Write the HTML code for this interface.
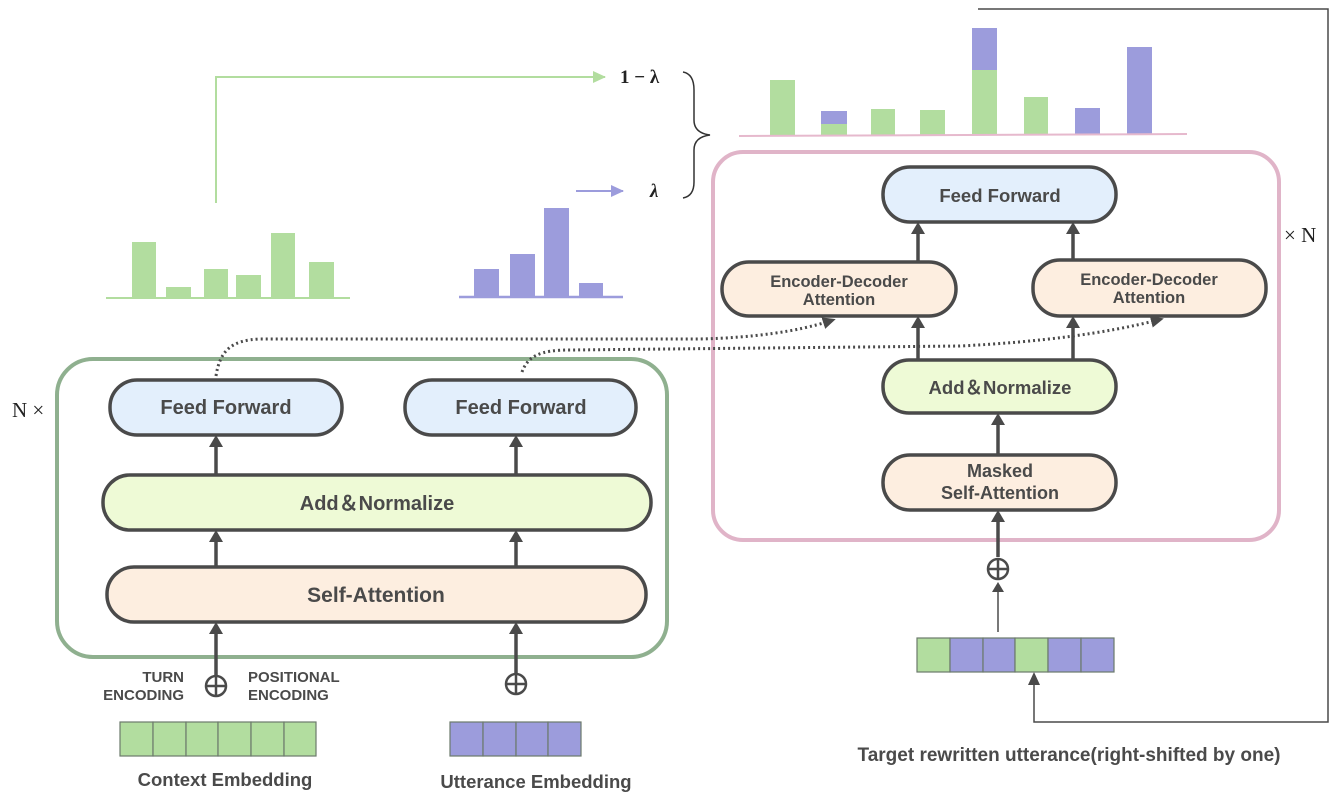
<!DOCTYPE html>
<html><head><meta charset="utf-8"><style>
html,body{margin:0;padding:0;background:#fff;}
svg{display:block;}
text{font-family:"Liberation Sans",sans-serif;font-weight:bold;fill:#4a4a4a;}
.s{font-family:"Liberation Serif",serif;fill:#222;}
.n{font-family:"Liberation Serif",serif;fill:#222;font-weight:normal;}
</style></head><body>
<svg width="1338" height="794" viewBox="0 0 1338 794" xmlns="http://www.w3.org/2000/svg">
<defs>
<marker id="ag" markerWidth="14" markerHeight="14" refX="12" refY="7" orient="auto" markerUnits="userSpaceOnUse"><path d="M0,1 L13,7 L0,13 z" fill="#b2dd9f"/></marker>
<marker id="ap" markerWidth="14" markerHeight="14" refX="12" refY="7" orient="auto" markerUnits="userSpaceOnUse"><path d="M0,1 L13,7 L0,13 z" fill="#9c9cdc"/></marker>
<marker id="ad" markerWidth="14" markerHeight="14" refX="7" refY="7" orient="auto" markerUnits="userSpaceOnUse"><path d="M0,1 L13,7 L0,13 z" fill="#4a4a4a"/></marker>
</defs>

<g fill="#b2dd9f">
<rect x="132" y="242" width="24" height="55"/><rect x="166" y="287" width="25" height="10"/>
<rect x="204" y="269" width="24" height="28"/><rect x="236" y="275" width="25" height="22"/>
<rect x="271" y="233" width="24" height="64"/><rect x="309" y="262" width="25" height="35"/>
</g>
<line x1="106" y1="298" x2="350" y2="298" stroke="#b2dd9f" stroke-width="2"/>
<g fill="#9c9cdc">
<rect x="474" y="269" width="25" height="27"/><rect x="510" y="254" width="25" height="42"/>
<rect x="544" y="208" width="25" height="88"/><rect x="579" y="283" width="24" height="13"/>
</g>
<line x1="459" y1="297" x2="623" y2="297" stroke="#9c9cdc" stroke-width="2.5"/>

<polyline points="216,203 216,77 605,77" fill="none" stroke="#b2dd9f" stroke-width="2" marker-end="url(#ag)"/>
<line x1="576" y1="191" x2="623" y2="191" stroke="#9c9cdc" stroke-width="2" marker-end="url(#ap)"/>
<text x="620" y="83" class="s" font-size="19">1 − λ</text>
<text x="650" y="197" class="s" font-size="19" font-style="italic">λ</text>
<path d="M683,72 Q694,74 694,90 L694,120 Q694,133 710,135 Q694,137 694,150 L694,182 Q694,196 683,198" fill="none" stroke="#333" stroke-width="1.5"/>

<g>
<rect x="770" y="80" width="25" height="55" fill="#b2dd9f"/>
<rect x="821" y="111" width="26" height="13" fill="#9c9cdc"/><rect x="821" y="124" width="26" height="11" fill="#b2dd9f"/>
<rect x="871" y="109" width="24" height="26" fill="#b2dd9f"/>
<rect x="920" y="110" width="25" height="25" fill="#b2dd9f"/>
<rect x="972" y="28" width="25" height="42" fill="#9c9cdc"/><rect x="972" y="70" width="25" height="65" fill="#b2dd9f"/>
<rect x="1024" y="97" width="24" height="38" fill="#b2dd9f"/>
<rect x="1075" y="108" width="25" height="27" fill="#9c9cdc"/>
<rect x="1127" y="47" width="25" height="88" fill="#9c9cdc"/>
</g>
<line x1="739" y1="136" x2="1187" y2="134" stroke="#e6b9cd" stroke-width="2"/>

<polyline points="978,9 1328,9 1328,722 1034,722 1034,678" fill="none" stroke="#4a4a4a" stroke-width="1.5" marker-end="url(#ad)"/>
<text x="1284" y="242" class="n" font-size="21">× N</text>
<text x="12" y="417" class="n" font-size="21">N ×</text>

<rect x="57" y="359" width="610" height="298" rx="36" fill="none" stroke="#8fb08f" stroke-width="4"/>
<rect x="713" y="152" width="566" height="388" rx="30" fill="none" stroke="#e0b4c8" stroke-width="4"/>

<path d="M216,376 C220,350 232,340 260,339 L700,339 Q780,337 830,321" fill="none" stroke="#4a4a4a" stroke-width="3" stroke-dasharray="2,3" marker-end="url(#ad)"/>
<path d="M522,372 C528,356 540,350 570,350 L960,346 Q1080,340 1158,320" fill="none" stroke="#4a4a4a" stroke-width="3" stroke-dasharray="2,3" marker-end="url(#ad)"/>

<g stroke="#4a4a4a" stroke-width="3.5">
<rect x="110" y="380" width="232" height="55" rx="27" fill="#e3effc"/>
<rect x="405" y="380" width="231" height="55" rx="27" fill="#e3effc"/>
<rect x="103" y="475" width="548" height="55" rx="27" fill="#eefad6"/>
<rect x="107" y="567" width="539" height="55" rx="27" fill="#fdeee0"/>
<rect x="883" y="167" width="233" height="55" rx="27" fill="#e3effc"/>
<rect x="722" y="262" width="234" height="54" rx="27" fill="#fdeee0"/>
<rect x="1033" y="260" width="233" height="56" rx="27" fill="#fdeee0"/>
<rect x="883" y="360" width="233" height="53" rx="26" fill="#eefad6"/>
<rect x="883" y="455" width="233" height="55" rx="27" fill="#fdeee0"/>
</g>

<g text-anchor="middle">
<text x="226" y="414" font-size="20">Feed Forward</text>
<text x="521" y="414" font-size="20">Feed Forward</text>
<text x="377" y="510" font-size="20">Add＆Normalize</text>
<text x="376" y="602" font-size="21">Self-Attention</text>
<text x="1000" y="202" font-size="18.5">Feed Forward</text>
<text x="1000" y="394" font-size="18.5">Add＆Normalize</text>
<text x="1000" y="477" font-size="18">Masked</text>
<text x="1000" y="499" font-size="18">Self-Attention</text>
<text x="839" y="287" font-size="16.5">Encoder-Decoder</text>
<text x="839" y="305" font-size="16.5">Attention</text>
<text x="1149" y="285" font-size="16.5">Encoder-Decoder</text>
<text x="1149" y="303" font-size="16.5">Attention</text>
</g>

<g stroke="#4a4a4a" stroke-width="3.5" fill="none">
<line x1="216" y1="475" x2="216" y2="445"/><line x1="516" y1="475" x2="516" y2="445"/>
<line x1="216" y1="567" x2="216" y2="540"/><line x1="516" y1="567" x2="516" y2="540"/>
<line x1="216" y1="675" x2="216" y2="632"/><line x1="516" y1="673" x2="516" y2="632"/>
<line x1="918" y1="262" x2="918" y2="232"/><line x1="1073" y1="260" x2="1073" y2="232"/>
<line x1="918" y1="360" x2="918" y2="326"/><line x1="1073" y1="360" x2="1073" y2="326"/>
<line x1="998" y1="455" x2="998" y2="423"/><line x1="998" y1="557" x2="998" y2="520"/>
</g>
<g fill="#4a4a4a">
<path d="M209,447 L216,435 L223,447z"/><path d="M509,447 L516,435 L523,447z"/>
<path d="M209,542 L216,530 L223,542z"/><path d="M509,542 L516,530 L523,542z"/>
<path d="M209,634 L216,622 L223,634z"/><path d="M509,634 L516,622 L523,634z"/>
<path d="M911,234 L918,222 L925,234z"/><path d="M1066,234 L1073,222 L1080,234z"/>
<path d="M911,328 L918,316 L925,328z"/><path d="M1066,328 L1073,316 L1080,328z"/>
<path d="M991,425 L998,413 L1005,425z"/><path d="M991,522 L998,510 L1005,522z"/>
<path d="M992,592 L998,582 L1004,592z"/>
</g>
<line x1="998" y1="632" x2="998" y2="590" stroke="#4a4a4a" stroke-width="1.5"/>

<g stroke="#4a4a4a" stroke-width="2.5" fill="#fff">
<circle cx="216" cy="686" r="10"/><circle cx="516" cy="684" r="10"/><circle cx="998" cy="569" r="10"/>
</g>
<g stroke="#4a4a4a" stroke-width="2.5">
<line x1="216" y1="677" x2="216" y2="695"/><line x1="207" y1="686" x2="225" y2="686"/>
<line x1="516" y1="675" x2="516" y2="693"/><line x1="507" y1="684" x2="525" y2="684"/>
<line x1="998" y1="560" x2="998" y2="578"/><line x1="989" y1="569" x2="1007" y2="569"/>
</g>

<g font-size="15">
<text x="184" y="682" text-anchor="end">TURN</text>
<text x="184" y="700" text-anchor="end">ENCODING</text>
<text x="248" y="682">POSITIONAL</text>
<text x="248" y="700">ENCODING</text>
</g>

<g stroke="#6c7a6c" stroke-width="1.2">
<rect x="120" y="722" width="33" height="34" fill="#b2dd9f"/><rect x="153" y="722" width="33" height="34" fill="#b2dd9f"/>
<rect x="186" y="722" width="32" height="34" fill="#b2dd9f"/><rect x="218" y="722" width="33" height="34" fill="#b2dd9f"/>
<rect x="251" y="722" width="33" height="34" fill="#b2dd9f"/><rect x="284" y="722" width="32" height="34" fill="#b2dd9f"/>
<rect x="450" y="722" width="33" height="34" fill="#9c9cdc"/><rect x="483" y="722" width="33" height="34" fill="#9c9cdc"/>
<rect x="516" y="722" width="32" height="34" fill="#9c9cdc"/><rect x="548" y="722" width="33" height="34" fill="#9c9cdc"/>
<rect x="917" y="638" width="33" height="34" fill="#b2dd9f"/><rect x="950" y="638" width="33" height="34" fill="#9c9cdc"/>
<rect x="983" y="638" width="32" height="34" fill="#9c9cdc"/><rect x="1015" y="638" width="33" height="34" fill="#b2dd9f"/>
<rect x="1048" y="638" width="33" height="34" fill="#9c9cdc"/><rect x="1081" y="638" width="33" height="34" fill="#9c9cdc"/>
</g>
<g text-anchor="middle">
<text x="225" y="786" font-size="18.5">Context Embedding</text>
<text x="536" y="788" font-size="18.5">Utterance Embedding</text>
<text x="1069" y="761" font-size="19">Target rewritten utterance(right-shifted by one)</text>
</g>
</svg>
</body></html>
